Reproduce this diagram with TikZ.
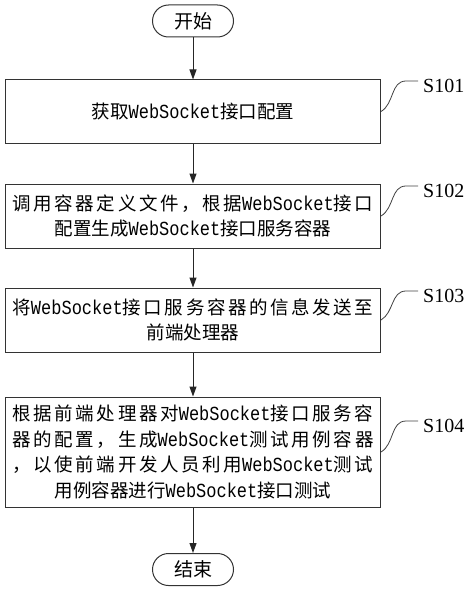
\documentclass[tikz,border=0pt]{standalone}
\usepackage{fontspec}
\setmainfont{Noto Sans CJK SC}
\newfontfamily\wsfont[FakeStretch=0.85,Scale=1.08]{Liberation Mono}
\newfontfamily\stepfont{Liberation Serif}
\usetikzlibrary{arrows.meta}

% let full lines spread out between the CJK characters
\newcount\cjkchar
\cjkchar="4E00
\loop \XeTeXcharclass\cjkchar=1 \advance\cjkchar by 1 \ifnum\cjkchar<"A000 \repeat
\XeTeXcharclass"FF0C=3
\XeTeXinterchartokenstate=1
\XeTeXinterchartoks 1 1 = {\hskip 0pt plus 1pt}
\XeTeXinterchartoks 1 3 = {\hskip 0pt plus 1pt}
\XeTeXinterchartoks 3 1 = {\hskip 0pt plus 1pt}
\newcommand{\ws}{{\wsfont WebSocket}}
\newcommand{\fullline}[1]{\makebox[361pt][s]{#1}}

\begin{document}
\begin{tikzpicture}[x=1pt,y=-1pt]
  \tikzset{stepbox/.style = {draw=black!80, line width=1pt, minimum width=375pt, inner sep=0pt, align=center,
      font=\fontsize{18.5pt}{25.5pt}\selectfont}}
  \tikzset{terminal/.style = {draw=black!80, line width=1pt, rounded corners=16pt, minimum width=81pt,
      minimum height=32pt, inner sep=0pt, font=\fontsize{19pt}{19pt}\selectfont}}
  \tikzset{steplabel/.style = {anchor=west, inner sep=5pt, font=\stepfont\fontsize{20pt}{20pt}\selectfont}}
  \tikzset{edge/.style = {-{Triangle[length=10pt,width=7pt]}, line width=1pt, black!85}}
  \tikzset{brace/.style = {line width=0.8pt, black!75}}

  \useasboundingbox (0,0) rectangle (474,591);

  \node[terminal] (start) at (193,21) {开始};

  \node[stepbox, minimum height=63pt] (b1) at (193,111.5) {获取\ws 接口配置};
  \node[stepbox, minimum height=64pt] (b2) at (193,216)
    {\fullline{调用容器定义文件，根据\ws 接口}\\配置生成\ws 接口服务容器};
  \node[stepbox, minimum height=64pt] (b3) at (193,320)
    {\fullline{将\ws 接口服务容器的信息发送至}\\前端处理器};
  \node[stepbox, minimum height=110pt] (b4) at (193,452)
    {\fullline{根据前端处理器对\ws 接口服务容}\\\fullline{器的配置，生成\ws 测试用例容器}\\
     \fullline{，以使前端开发人员利用\ws 测试}\\用例容器进行\ws 接口测试};

  \node[terminal] (stop) at (193,569.5) {结束};

  \foreach \from/\to in {start/b1, b1/b2, b2/b3, b3/b4, b4/stop}
    \draw[edge] (\from) -- (\to);

  % step numbers
  \foreach \bx/\num/\y in {b1/S101/85.5, b2/S102/190.5, b3/S103/295.5, b4/S104/425.5}
  {
    \node[steplabel] (l\bx) at (418,\y) {\num};
    \draw[brace] (\bx.east) to[out=30,in=180] ([xshift=-12pt,yshift=4.5pt]l\bx.west) -- ([yshift=4.5pt]l\bx.west);
  }

\end{tikzpicture}
\end{document}
